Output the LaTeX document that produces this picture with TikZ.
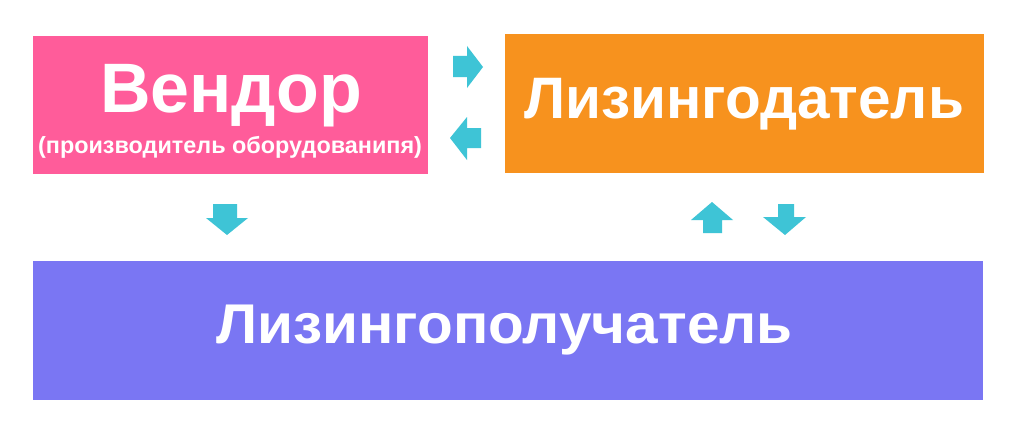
\documentclass[tikz,border=0pt]{standalone}
\usepackage{fontspec}
\setmainfont{Liberation Sans}
\definecolor{vpink}{RGB}{255,92,154}
\definecolor{vorange}{RGB}{247,146,30}
\definecolor{vpurple}{RGB}{122,118,243}
\definecolor{vcyan}{RGB}{62,196,214}
\begin{document}
\begin{tikzpicture}[x=1pt,y=-1pt,
  blockarrow/.style={fill=vcyan,draw=none},
  bigtext/.style={text=white,font=\bfseries\fontsize{#1}{#1}\selectfont,anchor=base,inner sep=0pt}]
\useasboundingbox (0,0) rectangle (1024,444);
\fill[white] (0,0) rectangle (1024,444);
% boxes
\fill[vpink] (33,36) rectangle (428,174);
\fill[vorange] (505,34) rectangle (984,173);
\fill[vpurple] (33,261) rectangle (983,400);
\node[bigtext=70] (vendor) at (231,112) {Вендор};
\node[bigtext=23.4] (vendorsub) at (230,153) {(производитель оборудованипя)};
\node[bigtext=58.5] (lessor) at (744,118) {Лизингодатель};
\node[bigtext=56] (lessee) at (504.5,343) {\scalebox{1.045}[1]{Лизингополучатель}};
% arrows
\fill[blockarrow] (453,56) -- (467,56) -- (467,46) -- (483,67) -- (467,88) -- (467,77) -- (453,77) -- cycle;
\fill[blockarrow] (481,128) -- (467,128) -- (467,117) -- (450,138) -- (467,160) -- (467,148) -- (481,148) -- cycle;
\fill[blockarrow] (213,204) -- (237,204) -- (237,218) -- (248,218) -- (227,235) -- (206,218) -- (213,218) -- cycle;
\fill[blockarrow] (703,233) -- (722,233) -- (722,220) -- (733,220) -- (712,202) -- (691,220) -- (703,220) -- cycle;
\fill[blockarrow] (778,204) -- (794,204) -- (794,217) -- (806,217) -- (785,235) -- (763,217) -- (778,217) -- cycle;
\end{tikzpicture}
\end{document}
